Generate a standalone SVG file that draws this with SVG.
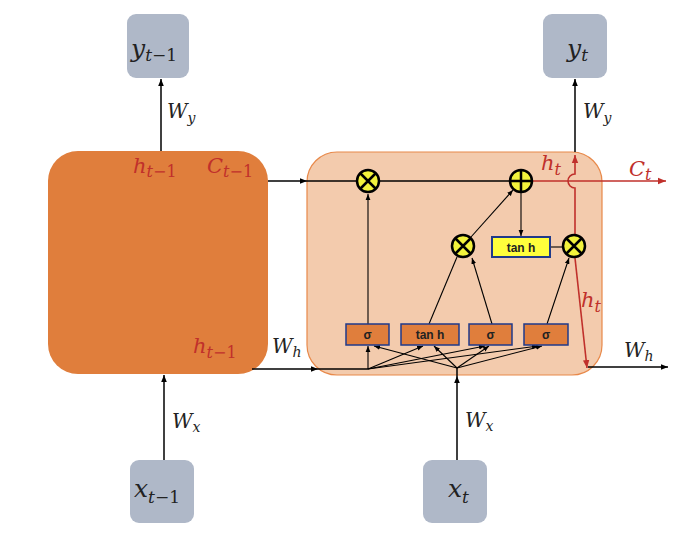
<svg xmlns="http://www.w3.org/2000/svg" width="700" height="540" viewBox="0 0 700 540">
<defs>
<marker id="ab" viewBox="0 0 10 10" refX="10" refY="5" markerWidth="7" markerHeight="7" markerUnits="userSpaceOnUse" orient="auto"><path d="M0,1 L10,5 L0,9 z" fill="#000"/></marker>
<marker id="abs" viewBox="0 0 10 10" refX="10" refY="5" markerWidth="6" markerHeight="6" markerUnits="userSpaceOnUse" orient="auto"><path d="M0,1 L10,5 L0,9 z" fill="#000"/></marker>
<marker id="ar" viewBox="0 0 10 10" refX="10" refY="5" markerWidth="8" markerHeight="8" markerUnits="userSpaceOnUse" orient="auto"><path d="M0,1 L10,5 L0,9 z" fill="#C0302B"/></marker>
</defs>
<style>
.io{fill:#AFB8C8;}
.m{font-family:"DejaVu Serif","Liberation Serif",serif;font-style:italic;fill:#222;}
.r{fill:#C0302B;}
.n{font-style:normal;}
.ln{stroke:#000;stroke-width:1.5;fill:none;}
.fn{stroke:#000;stroke-width:1.1;fill:none;}
.rl{stroke:#C0302B;stroke-width:1.6;fill:none;}
.gate{fill:#E07E3C;stroke:#1F3A8A;stroke-width:1.5;}
.gt{font-family:"Liberation Sans","DejaVu Sans",sans-serif;font-weight:bold;font-size:12px;fill:#222;text-anchor:middle;}
.op{fill:#F2F23C;stroke:#000;stroke-width:2.5;}
.cr{stroke:#000;stroke-width:2.5;}
</style>

<g id="cell-prev">
<rect x="48" y="151" width="220" height="223" rx="30" fill="#E07E3C"/>
<text class="m r" x="133" y="173" font-size="21">h<tspan dy="4" font-size="16">t</tspan><tspan class="n" font-size="16">−1</tspan></text>
<text class="m r" x="207" y="173" font-size="21">C<tspan dy="4" font-size="16">t</tspan><tspan class="n" font-size="16">−1</tspan></text>
<text class="m r" x="193" y="353" font-size="21">h<tspan dy="5" font-size="16">t</tspan><tspan class="n" font-size="16">−1</tspan></text>
</g>

<g id="cell-cur">
<rect x="307" y="152" width="295" height="223" rx="30" fill="#F3CBAD" stroke="#E8894A" stroke-width="1.2"/>
</g>

<g id="y-prev"><rect class="io" x="127" y="14" width="62" height="64" rx="9"/>
<text class="m" x="131" y="57" font-size="25">y<tspan dy="4" font-size="17">t</tspan><tspan class="n" font-size="17">−1</tspan></text></g>
<g id="y-cur"><rect class="io" x="543" y="14" width="64" height="64" rx="9"/>
<text class="m" x="567" y="57" font-size="25">y<tspan dy="4" font-size="17">t</tspan></text></g>
<g id="x-prev"><rect class="io" x="130" y="460" width="64" height="63" rx="9"/>
<text class="m" x="134" y="497" font-size="25">x<tspan dy="6" font-size="17">t</tspan><tspan class="n" font-size="17">−1</tspan></text></g>
<g id="x-cur"><rect class="io" x="423" y="460" width="64" height="63" rx="9"/>
<text class="m" x="448" y="497" font-size="25">x<tspan dy="6" font-size="17">t</tspan></text></g>

<g id="connectors">
<line class="ln" x1="161" y1="151" x2="161" y2="79" marker-end="url(#ab)"/>
<line class="ln" x1="164" y1="460" x2="164" y2="375" marker-end="url(#ab)"/>
<line class="ln" x1="268" y1="181" x2="307" y2="181" marker-end="url(#ab)"/>
<line class="ln" x1="307" y1="181" x2="357" y2="181"/>
<line class="ln" x1="380" y1="181" x2="510" y2="181"/>
<line class="rl" x1="533" y1="181" x2="666" y2="181" marker-end="url(#ar)"/>
<line class="ln" x1="252" y1="369" x2="318" y2="369" marker-end="url(#ab)"/>
<line class="ln" x1="318" y1="369" x2="368" y2="369"/>
<line class="ln" x1="457" y1="460" x2="457" y2="376" marker-end="url(#ab)"/>
<line class="ln" x1="457" y1="376" x2="457" y2="368"/>
<line class="ln" x1="588" y1="367" x2="668" y2="367" marker-end="url(#ab)"/>
<!-- fan -->
<line class="fn" x1="368" y1="369" x2="368" y2="346" marker-end="url(#abs)"/>
<line class="fn" x1="368" y1="369" x2="423" y2="346" marker-end="url(#abs)"/>
<line class="fn" x1="368" y1="369" x2="485" y2="346" marker-end="url(#abs)"/>
<line class="fn" x1="368" y1="369" x2="538" y2="346" marker-end="url(#abs)"/>
<line class="fn" x1="457" y1="368" x2="374" y2="346" marker-end="url(#abs)"/>
<line class="fn" x1="457" y1="368" x2="434" y2="346" marker-end="url(#abs)"/>
<line class="fn" x1="457" y1="368" x2="489" y2="346" marker-end="url(#abs)"/>
<line class="fn" x1="457" y1="368" x2="542" y2="346" marker-end="url(#abs)"/>
<!-- gate outputs -->
<line class="fn" x1="368" y1="324" x2="368" y2="194" marker-end="url(#abs)"/>
<line class="fn" x1="429" y1="324" x2="457" y2="257"/>
<line class="fn" x1="492" y1="324" x2="472" y2="258" marker-end="url(#abs)"/>
<line class="fn" x1="471" y1="237" x2="513" y2="190" marker-end="url(#abs)"/>
<line class="fn" x1="521" y1="193" x2="521" y2="236" marker-end="url(#abs)"/>
<line class="fn" x1="550" y1="247" x2="563" y2="247"/>
<line class="fn" x1="547" y1="324" x2="569" y2="258" marker-end="url(#abs)"/>
<!-- h_t outputs -->
<path class="rl" d="M575,235 L575,188 A7,7 0 0 1 575,174 L575,155" marker-end="url(#ar)"/>
<line class="ln" x1="575" y1="152" x2="575" y2="79" marker-end="url(#ab)"/>
<line class="rl" x1="575" y1="258" x2="587" y2="368" marker-end="url(#ar)"/>
</g>

<g id="labels">
<text class="m" x="167" y="118" font-size="20">W<tspan dy="5" font-size="14">y</tspan></text>
<text class="m" x="583" y="118" font-size="20">W<tspan dy="5" font-size="14">y</tspan></text>
<text class="m" x="172" y="428" font-size="20">W<tspan dy="4" font-size="14">x</tspan></text>
<text class="m" x="465" y="427" font-size="20">W<tspan dy="4" font-size="14">x</tspan></text>
<text class="m" x="272" y="353" font-size="20">W<tspan dy="4" font-size="14">h</tspan></text>
<text class="m" x="624" y="357" font-size="20">W<tspan dy="4" font-size="14">h</tspan></text>
<text class="m r" x="541" y="170" font-size="21">h<tspan dy="5" font-size="16">t</tspan></text>
<text class="m r" x="629" y="176" font-size="21">C<tspan dy="4" font-size="16">t</tspan></text>
<text class="m r" x="581" y="307" font-size="21">h<tspan dy="5" font-size="16">t</tspan></text>
</g>

<g id="gate-f"><rect class="gate" x="346" y="324" width="43" height="21"/><text class="gt" x="367.5" y="338.5">σ</text></g>
<g id="gate-g"><rect class="gate" x="401" y="324" width="58" height="21"/><text class="gt" x="430" y="338.5">tan h</text></g>
<g id="gate-i"><rect class="gate" x="469" y="324" width="43" height="21"/><text class="gt" x="490.5" y="338.5">σ</text></g>
<g id="gate-o"><rect class="gate" x="524" y="324" width="44" height="21"/><text class="gt" x="546" y="338.5">σ</text></g>

<g id="mul-forget"><circle class="op" cx="368" cy="181" r="11"/><path class="cr" d="M360.5,173.5 L375.5,188.5 M375.5,173.5 L360.5,188.5"/></g>
<g id="add-cell"><circle class="op" cx="521" cy="181" r="11"/><path class="cr" d="M521,170 L521,192 M510,181 L532,181"/></g>
<g id="mul-input"><circle class="op" cx="463" cy="246" r="11"/><path class="cr" d="M455.5,238.5 L470.5,253.5 M470.5,238.5 L455.5,253.5"/></g>
<g id="mul-output"><circle class="op" cx="574" cy="246" r="11"/><path class="cr" d="M566.5,238.5 L581.5,253.5 M581.5,238.5 L566.5,253.5"/></g>
<g id="tanh-cell"><rect x="492" y="237" width="58" height="20" fill="#FFFF3C" stroke="#1F3A8A" stroke-width="2"/><text class="gt" x="521" y="251.5" font-size="13">tan h</text></g>
</svg>
